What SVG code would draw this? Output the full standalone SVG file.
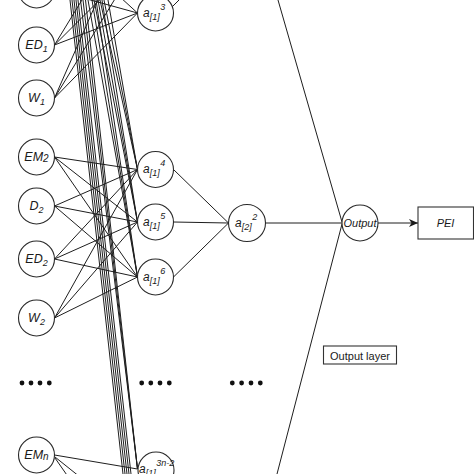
<svg xmlns="http://www.w3.org/2000/svg" width="474" height="474" viewBox="0 0 474 474">
<defs>
<style>
.n{fill:#fff;stroke:#2a2a2a;stroke-width:1.1}
.c line{stroke:#1e1e1e;stroke-width:1}
.t{font-family:"Liberation Sans",Arial,sans-serif;font-style:italic;font-size:12.5px;fill:#1a1a1a}
.h{font-family:"Liberation Sans",Arial,sans-serif;font-style:italic;font-size:12px;fill:#1a1a1a}
.o{font-family:"Liberation Sans",Arial,sans-serif;font-style:italic;font-size:11px;fill:#1a1a1a}
.s{font-size:9px}
.d{fill:#111}
.b{fill:#fff;stroke:#333;stroke-width:1.1}
</style>
<marker id="ah" markerWidth="10" markerHeight="8" refX="9" refY="4" orient="auto" markerUnits="userSpaceOnUse">
<path d="M0,0 L9,4 L0,8 L2.5,4 Z" fill="#1a1a1a"/>
</marker>
</defs>
<rect width="474" height="474" fill="#fff"/>
<g id="connectors" class="c">
<line x1="54.5" y1="45" x2="137.5" y2="-91"/>
<line x1="54.5" y1="45" x2="137.5" y2="-38"/>
<line x1="54.5" y1="45" x2="137.5" y2="13"/>
<line x1="54.5" y1="98" x2="137.5" y2="-91"/>
<line x1="54.5" y1="98" x2="137.5" y2="-38"/>
<line x1="54.5" y1="98" x2="137.5" y2="13"/>
<line x1="54.5" y1="-10" x2="137.5" y2="13"/>
<line x1="54.5" y1="-63" x2="137.5" y2="13"/>
<line x1="171" y1="8" x2="181" y2="-2"/>
<line x1="70" y1="0" x2="123" y2="474"/>
<line x1="72" y1="0" x2="125" y2="474"/>
<line x1="74" y1="0" x2="127" y2="474"/>
<line x1="76" y1="0" x2="129" y2="474"/>
<line x1="78" y1="0" x2="131" y2="474"/>
<line x1="80.5" y1="0" x2="137.5" y2="469"/>
<line x1="83" y1="0" x2="137.5" y2="469"/>
<line x1="85.5" y1="0" x2="137.5" y2="469"/>
<line x1="100" y1="0" x2="137.5" y2="169.5"/>
<line x1="104" y1="0" x2="137.5" y2="169.5"/>
<line x1="108" y1="0" x2="137.5" y2="169.5"/>
<line x1="94" y1="0" x2="137.5" y2="222"/>
<line x1="98" y1="0" x2="137.5" y2="222"/>
<line x1="102" y1="0" x2="137.5" y2="222"/>
<line x1="88" y1="0" x2="137.5" y2="277"/>
<line x1="92" y1="0" x2="137.5" y2="277"/>
<line x1="96" y1="0" x2="137.5" y2="277"/>
<line x1="54.5" y1="157" x2="137.5" y2="169.5"/>
<line x1="54.5" y1="157" x2="137.5" y2="222"/>
<line x1="54.5" y1="157" x2="137.5" y2="277"/>
<line x1="54.5" y1="206" x2="137.5" y2="169.5"/>
<line x1="54.5" y1="206" x2="137.5" y2="222"/>
<line x1="54.5" y1="206" x2="137.5" y2="277"/>
<line x1="54.5" y1="259" x2="137.5" y2="169.5"/>
<line x1="54.5" y1="259" x2="137.5" y2="222"/>
<line x1="54.5" y1="259" x2="137.5" y2="277"/>
<line x1="54.5" y1="318" x2="137.5" y2="169.5"/>
<line x1="54.5" y1="318" x2="137.5" y2="222"/>
<line x1="54.5" y1="318" x2="137.5" y2="277"/>
<line x1="54.5" y1="455" x2="137.5" y2="469"/>
<line x1="55" y1="457" x2="137.5" y2="523"/>
<line x1="55" y1="458" x2="137.5" y2="576"/>
<line x1="173.5" y1="169.5" x2="228.5" y2="223"/>
<line x1="173.5" y1="222" x2="228.5" y2="223"/>
<line x1="173.5" y1="277" x2="228.5" y2="223"/>
<line x1="265.5" y1="223" x2="342" y2="223"/>
<line x1="278" y1="0" x2="342" y2="222"/>
<line x1="277" y1="474" x2="342" y2="224"/>
<line x1="378" y1="223" x2="418" y2="223" marker-end="url(#ah)"/>
</g>
<g id="in_D1"><circle class="n" cx="36.5" cy="-10" r="18"/></g>
<g id="in_ED1"><circle class="n" cx="36.5" cy="45" r="18"/><text class="t" x="36.5" y="49" text-anchor="middle">ED<tspan class="s" dy="3">1</tspan></text></g>
<g id="in_W1"><circle class="n" cx="36.5" cy="98" r="18"/><text class="t" x="36.5" y="102" text-anchor="middle">W<tspan class="s" dy="3">1</tspan></text></g>
<g id="in_EM2"><circle class="n" cx="36.5" cy="157" r="18"/><text class="t" x="36.5" y="161" text-anchor="middle">EM<tspan style="font-size:10px" dy="0.5">2</tspan></text></g>
<g id="in_D2"><circle class="n" cx="36.5" cy="206" r="18"/><text class="t" x="36.5" y="210" text-anchor="middle">D<tspan class="s" dy="3">2</tspan></text></g>
<g id="in_ED2"><circle class="n" cx="36.5" cy="259" r="18"/><text class="t" x="36.5" y="263" text-anchor="middle">ED<tspan class="s" dy="3">2</tspan></text></g>
<g id="in_W2"><circle class="n" cx="36.5" cy="318" r="18"/><text class="t" x="36.5" y="322" text-anchor="middle">W<tspan class="s" dy="3">2</tspan></text></g>
<g id="in_EMn"><circle class="n" cx="36.5" cy="455" r="18"/><text class="t" x="36.5" y="459" text-anchor="middle">EM<tspan style="font-size:10px" dy="0.5">n</tspan></text></g>
<g id="h_a3"><circle class="n" cx="155.5" cy="13" r="18"/><text class="h" x="143" y="16.5">a<tspan class="s" dy="3">[1]</tspan><tspan class="s" dx="0.5" dy="-10">3</tspan></text></g>
<g id="h_a4"><circle class="n" cx="155.5" cy="169.5" r="18"/><text class="h" x="143" y="173">a<tspan class="s" dy="3">[1]</tspan><tspan class="s" dx="0.5" dy="-10">4</tspan></text></g>
<g id="h_a5"><circle class="n" cx="155.5" cy="222" r="18"/><text class="h" x="143" y="225.5">a<tspan class="s" dy="3">[1]</tspan><tspan class="s" dx="0.5" dy="-10">5</tspan></text></g>
<g id="h_a6"><circle class="n" cx="155.5" cy="277" r="18"/><text class="h" x="143" y="280.5">a<tspan class="s" dy="3">[1]</tspan><tspan class="s" dx="0.5" dy="-10">6</tspan></text></g>
<g id="h_a3n2"><circle class="n" cx="156" cy="470" r="18"/><text class="h" x="139" y="473">a<tspan class="s" dy="3">[1]</tspan><tspan class="s" dx="0.5" dy="-10">3n-2</tspan></text></g>
<g id="l2_a2"><circle class="n" cx="247" cy="223" r="18.5"/><text class="h" x="235" y="226.5">a<tspan class="s" dy="3">[2]</tspan><tspan class="s" dx="0.5" dy="-10">2</tspan></text></g>
<g id="out"><circle class="n" cx="360" cy="223" r="18"/><text class="o" x="360" y="227" text-anchor="middle">Output</text></g>
<g id="pei"><rect class="b" x="418" y="207" width="55.5" height="32"/><text class="o" x="445.5" y="227" text-anchor="middle">PEI</text></g>
<g id="outlayer"><rect class="b" x="323.5" y="346" width="73" height="18"/><text x="360" y="359.5" text-anchor="middle" style="font-family:'Liberation Sans',Arial,sans-serif;font-size:11px;fill:#1a1a1a">Output layer</text></g>
<g id="dots">
<circle class="d" cx="22" cy="383" r="2.4"/><circle class="d" cx="31" cy="383" r="2.4"/><circle class="d" cx="40" cy="383" r="2.4"/><circle class="d" cx="49.3" cy="383" r="2.4"/>
<circle class="d" cx="141.7" cy="383" r="2.4"/><circle class="d" cx="150.8" cy="383" r="2.4"/><circle class="d" cx="160" cy="383" r="2.4"/><circle class="d" cx="169.3" cy="383" r="2.4"/>
<circle class="d" cx="232.3" cy="383" r="2.4"/><circle class="d" cx="241.6" cy="383" r="2.4"/><circle class="d" cx="251" cy="383" r="2.4"/><circle class="d" cx="260.3" cy="383" r="2.4"/>
</g>
</svg>
